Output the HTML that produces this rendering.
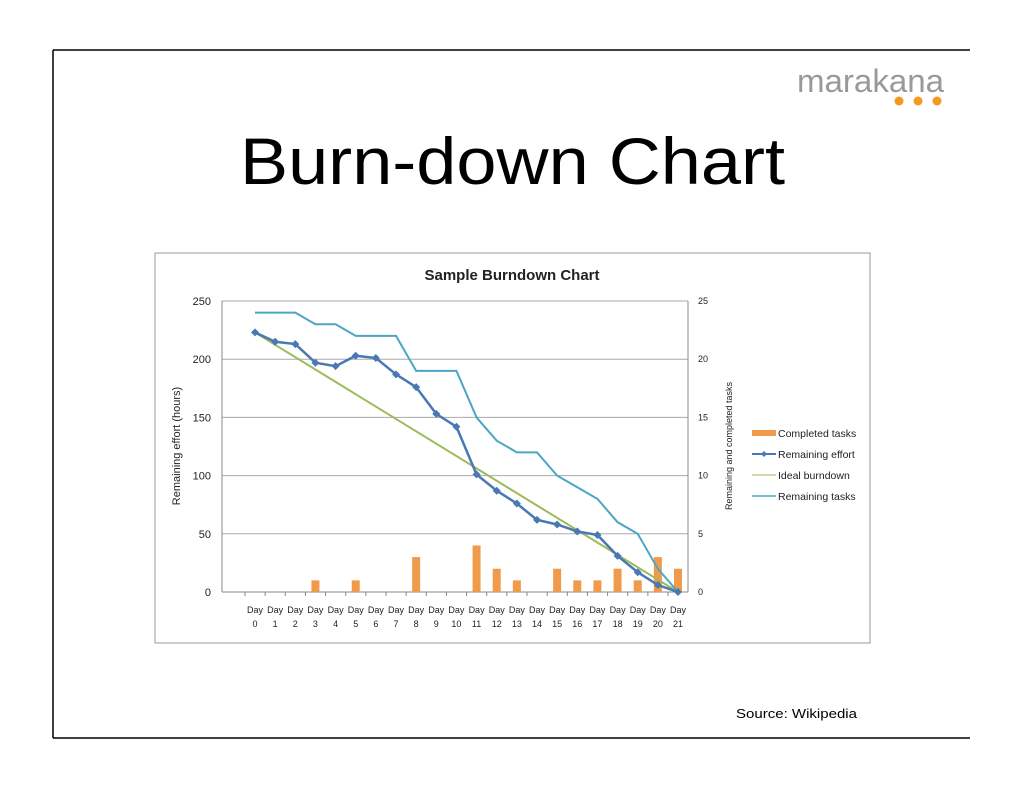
<!DOCTYPE html>
<html><head><meta charset="utf-8"><style>
body{margin:0;background:#fff;width:1024px;height:791px;overflow:hidden;font-family:"Liberation Sans",sans-serif;}
</style></head><body>
<svg width="1024" height="791" xmlns="http://www.w3.org/2000/svg">
<g>
<line x1="53" y1="50" x2="970" y2="50" stroke="#000" stroke-width="1.5"/>
<line x1="53" y1="50" x2="53" y2="738" stroke="#000" stroke-width="1.5"/>
<line x1="53" y1="738" x2="970" y2="738" stroke="#000" stroke-width="1.5"/>
</g>
<g>
<text x="797" y="92" font-size="32" fill="#999" textLength="147" lengthAdjust="spacingAndGlyphs">marakana</text>
<circle cx="899" cy="101" r="4.5" fill="#f39a1e"/><circle cx="918" cy="101" r="4.5" fill="#f39a1e"/><circle cx="937" cy="101" r="4.5" fill="#f39a1e"/>
</g>
<text x="240" y="184" font-size="66" fill="#000" textLength="545" lengthAdjust="spacingAndGlyphs">Burn-down Chart</text>
<rect x="155" y="253" width="715" height="390" fill="#fff" stroke="#999"/>
<text x="512" y="280" font-size="15" font-weight="bold" text-anchor="middle" fill="#222">Sample Burndown Chart</text>
<g id="plot"></g>
<text transform="translate(180,446) rotate(-90)" font-size="11" text-anchor="middle" fill="#222">Remaining effort (hours)</text>
<text transform="translate(732,446) rotate(-90)" font-size="9" text-anchor="middle" fill="#222">Remaining and completed tasks</text>
<g font-size="10.5" fill="#222">
<rect x="752" y="430" width="24" height="6" fill="#f09a4b"/><text x="778" y="437">Completed tasks</text>
<line x1="752" y1="454" x2="776" y2="454" stroke="#4a78b5" stroke-width="2"/><path d="M764 451l3 3-3 3-3-3z" fill="#4a78b5"/><text x="778" y="458">Remaining effort</text>
<line x1="752" y1="475" x2="776" y2="475" stroke="#9bbb59" stroke-width="1"/><text x="778" y="479">Ideal burndown</text>
<line x1="752" y1="496" x2="776" y2="496" stroke="#4ba6c4" stroke-width="1.5"/><text x="778" y="500">Remaining tasks</text>
</g>
<text x="736" y="718" font-size="13" fill="#000" textLength="121" lengthAdjust="spacingAndGlyphs">Source: Wikipedia</text>
</svg>
<script>
const days=["0","1","2","3","4","5","6","7","8","9","10","11","12","13","14","15","16","17","18","19","20","21"];
const effort=[223,215,213,197,194,203,201,187,176,153,142,101,87,76,62,58,52,49,31,17,6,0];
const tasks=[24,24,24,23,23,22,22,22,19,19,19,15,13,12,12,10,9,8,6,5,2,0];
const completed=[0,0,0,1,0,1,0,0,3,0,0,4,2,1,0,2,1,1,2,1,3,2];
const idealStart=223;
const leftTicks=[0,50,100,150,200,250];
const rightTicks=[0,5,10,15,20,25];
const NS="http://www.w3.org/2000/svg";
const g=document.getElementById('plot');
const X0=222,X1=688,Y0=592,Y1=301;
const x=i=>255+i*(678-255)/21;
const y=v=>Y0-(v/250)*(Y0-Y1);
const y2=v=>Y0-(v/25)*(Y0-Y1);
function mk(t,a){const e=document.createElementNS(NS,t);for(const k in a)e.setAttribute(k,a[k]);g.appendChild(e);return e;}
leftTicks.forEach((t,i)=>{
 const l=mk('line',{x1:X0,x2:X1,y1:y(t),y2:y(t),stroke:i==0?'#888':'#aaa'});
 
 
 const tx=mk('text',{x:211,y:y(t)+4,'font-size':11,'text-anchor':'end',fill:'#222'});tx.textContent=t;
 
 
});
rightTicks.forEach(t=>{
 const tx=mk('text',{x:698,y:y2(t)+3,'font-size':9,fill:'#222'});tx.textContent=t;
 
 
});
mk('line',{x1:X0,x2:X0,y1:Y1,y2:Y0,stroke:'#888'});
mk('line',{x1:X1,x2:X1,y1:Y1,y2:Y0,stroke:'#888'});
days.forEach((d,i)=>{
 mk('line',{x1:x(i)-10,x2:x(i)-10,y1:Y0,y2:Y0+4,stroke:'#888'});
 const a=mk('text',{x:x(i),y:613,'font-size':9,'text-anchor':'middle',fill:'#222'});a.textContent='Day';
 
 
 const b=mk('text',{x:x(i),y:627,'font-size':9,'text-anchor':'middle',fill:'#222'});b.textContent=d;
 
 
});
completed.forEach((c,i)=>{ if(c>0){
 const r=mk('rect',{x:x(i)-4,y:y2(c),width:8,height:Y0-y2(c),fill:'#f09a4b'});
 
 
}});
const ideal=mk('line',{x1:x(0),y1:y(idealStart),x2:x(21),y2:y(0),stroke:'#9bbb59','stroke-width':2});


const pt=mk('polyline',{points:tasks.map((v,i)=>x(i)+','+y2(v)).join(' '),fill:'none',stroke:'#4ba6c4','stroke-width':2});


const pe=mk('polyline',{points:effort.map((v,i)=>x(i)+','+y(v)).join(' '),fill:'none',stroke:'#4a78b5','stroke-width':2.5});


effort.forEach((v,i)=>{
 const m=mk('path',{d:`M${x(i)} ${y(v)-4}l4 4-4 4-4-4z`,fill:'#4a78b5'});
 
 
});
</script>
</body></html>
